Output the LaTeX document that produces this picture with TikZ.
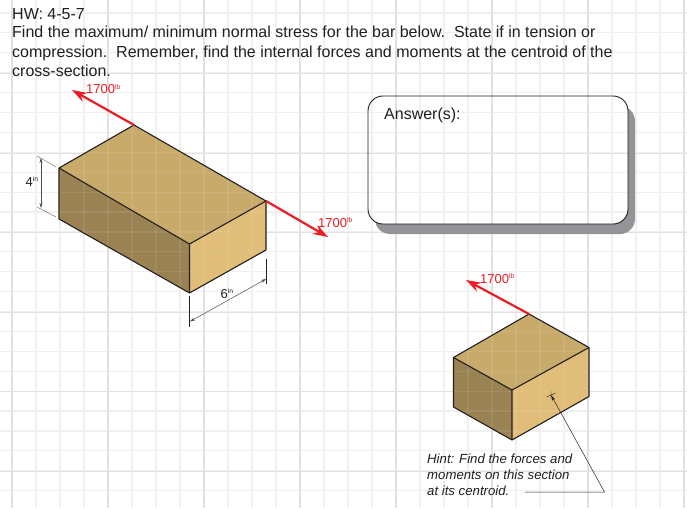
\documentclass[tikz,border=0pt]{standalone}
\usepackage{fontspec}
\setmainfont{Liberation Sans}
\usepackage{tikz}
\usetikzlibrary{arrows.meta,positioning,calc}
\definecolor{inkblack}{HTML}{231F20}
\definecolor{forcered}{HTML}{ED1C24}
\definecolor{faceTop}{HTML}{C8AB6B}
\definecolor{faceLeft}{HTML}{9A8253}
\definecolor{faceRight}{HTML}{E0BD78}
\definecolor{shadowGray}{HTML}{929497}
\definecolor{gridMinor}{HTML}{F0F0F0}
\definecolor{gridMajor}{HTML}{E2E2E2}
\newcommand{\unitsup}[1]{\raisebox{.38em}{\scalebox{.52}{#1}}}

\begin{document}
\begin{tikzpicture}
[x=1pt,y=-1pt,
force/.style={-{Stealth[length=15pt,width=10pt,inset=5pt]}, draw=forcered, line width=2.2pt},
forcetext/.style={text=forcered, font=\fontsize{13}{15}\selectfont, inner sep=0pt, anchor=base west},
edge/.style={draw=inkblack, line width=1.1pt, line join=round},
dimline/.style={{Stealth[length=5pt,width=3pt]}-{Stealth[length=5pt,width=3pt]}, draw=inkblack!80, line width=.5pt},
extline/.style={draw=inkblack, line width=.8pt},
dimtext/.style={text=inkblack, font=\fontsize{13}{15}\selectfont, inner sep=0pt, anchor=base west},
bodytext/.style={text=inkblack, font=\fontsize{16}{19.5}\selectfont, inner sep=0pt, anchor=base west, align=left},
hinttext/.style={text=inkblack, font=\fontsize{13.2}{16}\selectfont\itshape, inner sep=0pt, anchor=base west, align=left}]
\useasboundingbox (0,0) rectangle (687,508);
\fill[white] (0,0) rectangle (687,508);
%%
% grid paper
\foreach \gx in {12,36,...,684} \draw[gridMinor,line width=1.2pt] (\gx,0) -- (\gx,508);
\foreach \gy in {13,32.9,...,500} \draw[gridMinor,line width=1.2pt] (0,\gy) -- (687,\gy);
\foreach \gx in {12,108,...,684} \draw[gridMajor,line width=1.5pt] (\gx,0) -- (\gx,508);
\foreach \gy in {73.4,153,232.6,312.2,391.8,471.4} \draw[gridMajor,line width=1pt] (0,\gy) -- (687,\gy);
%%
% long bar
\coordinate (barL) at (59,168);
\coordinate (barB) at (134,125);
\coordinate (barR) at (266,201);
\coordinate (barF) at (189.5,244);
\coordinate (barLd) at (59,219);
\coordinate (barRd) at (266,250);
\coordinate (barFd) at (189.5,293);
\fill[faceTop] (barL) -- (barB) -- (barR) -- (barF) -- cycle;
\fill[faceLeft] (barL) -- (barF) -- (barFd) -- (barLd) -- cycle;
\fill[faceRight] (barF) -- (barR) -- (barRd) -- (barFd) -- cycle;
%%
% section
\coordinate (secL) at (453.5,357.5);
\coordinate (secB) at (529,314);
\coordinate (secR) at (589,347.5);
\coordinate (secF) at (512,390);
\coordinate (secLd) at (453.5,407);
\coordinate (secRd) at (589,396.5);
\coordinate (secFd) at (512,440);
\fill[faceTop] (secL) -- (secB) -- (secR) -- (secF) -- cycle;
\fill[faceLeft] (secL) -- (secF) -- (secFd) -- (secLd) -- cycle;
\fill[faceRight] (secF) -- (secR) -- (secRd) -- (secFd) -- cycle;
%%
% grid shows faintly through the faces
\begin{scope}[opacity=.08]
\clip (barL) -- (barB) -- (barR) -- (barRd) -- (barFd) -- (barLd) -- cycle
(secL) -- (secB) -- (secR) -- (secRd) -- (secFd) -- (secLd) -- cycle;
\foreach \gx in {12,36,...,684} \draw[white,line width=1.2pt] (\gx,0) -- (\gx,508);
\foreach \gy in {13,32.9,...,500} \draw[white,line width=1.2pt] (0,\gy) -- (687,\gy);
\end{scope}
%%
\draw[edge] (barL) -- (barB) -- (barR) -- (barRd) -- (barFd) -- (barLd) -- cycle;
\draw[edge] (barL) -- (barF) -- (barR) (barF) -- (barFd);
\draw[edge] (secL) -- (secB) -- (secR) -- (secRd) -- (secFd) -- (secLd) -- cycle;
\draw[edge] (secL) -- (secF) -- (secR) (secF) -- (secFd);
%%
% answer box
\begin{scope}[even odd rule,rounded corners=15pt]
\clip (-50,-50) rectangle (737,558) (368,96) rectangle (628,224);
\fill[shadowGray] (375,106) rectangle (635,234);
\end{scope}
\draw[draw=inkblack,line width=.9pt,rounded corners=15pt] (368,96) rectangle (628,224);
\node (answer) [bodytext] at (384,120) {Answer(s):};
%%
% problem statement
\node (title) [bodytext] at (12,20) {HW: 4-5-7};
\node (statement) [bodytext] at (12,77) {Find the maximum/ minimum normal stress for the bar below.\ \ State if in tension or\\
compression.\ \ Remember, find the internal forces and moments at the centroid of the\\
cross-section.};
%%
% forces
\coordinate (forceA) at (72,90);
\coordinate (forceB) at (328,237);
\coordinate (forceC) at (466,280);
\draw[force] (barB) -- (forceA);
\draw[force] (barR) -- (forceB);
\draw[force] (secB) -- (forceC);
\node (loadA) [forcetext] at (86,94) {1700\unitsup{lb}};
\node (loadB) [forcetext] at (318,227) {1700\unitsup{lb}};
\node (loadC) [forcetext] at (480,283) {1700\unitsup{lb}};
%%
% dimensions
\coordinate (hTopA) at (37,156);
\coordinate (hTopB) at (56,167);
\coordinate (hBotA) at (37,207);
\coordinate (hBotB) at (56,217);
\draw[draw=inkblack!70,line width=.4pt] (hTopA) -- (hTopB) (hBotA) -- (hBotB);
\coordinate (hUp) at (41,158);
\coordinate (hDown) at (41,208);
\draw[dimline] (hUp) -- (hDown);
\node (heightLabel) [dimtext] at (25.5,186) {4\unitsup{in}};
%%
\coordinate (wLa) at (189.5,296);
\coordinate (wLb) at (189.5,327);
\coordinate (wRa) at (266.5,259);
\coordinate (wRb) at (266.5,283.5);
\draw[extline] (wLa) -- (wLb) (wRa) -- (wRb);
\coordinate (wLeft) at (190,321.5);
\coordinate (wRight) at (266,279);
\draw[dimline] (wLeft) -- (wRight);
\node (widthLabel) [dimtext] at (220.5,298) {6\unitsup{in}};
%%
% hint and leader
\node (hint) [hinttext] at (427,495) {Hint: Find the forces and\\
moments on this section\\
at its centroid.};
\coordinate (centroid) at (551,395);
\coordinate (leaderBend) at (604.5,492);
\coordinate (leaderEnd) at (525,492);
\draw[inkblack,line width=.4pt] (546.5,397) -- (555.5,393) (551,391) -- (551,399);
\draw[inkblack,line width=.5pt,{Stealth[length=6pt,width=3pt]}-] (centroid) -- (leaderBend) -- (leaderEnd);
%%
\end{tikzpicture}
\end{document}
